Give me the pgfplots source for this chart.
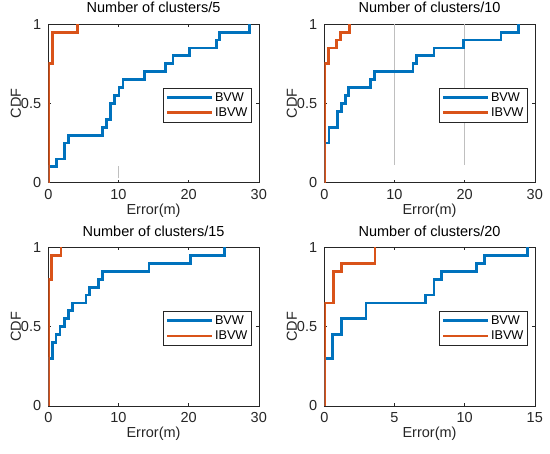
\documentclass[border=0pt]{standalone}
\usepackage{fontspec}
\setmainfont{Liberation Sans}
\usepackage{pgfplots}
\pgfplotsset{compat=1.18}
\definecolor{mblue}{rgb}{0,0.447,0.741}
\definecolor{morange}{rgb}{0.85,0.325,0.098}
\definecolor{axgray}{rgb}{0.15,0.15,0.15}
\newcommand{\bigf}{\fontsize{14.5}{17}\selectfont}
\tikzset{
 bvw/.style={mblue, line width=2.8pt},
 ibvw/.style={morange, line width=2.8pt},
 artif/.style={black!25, line width=0.8pt},
}
\pgfplotsset{
 cdfax/.style={
  scale only axis, width=210.5pt, height=158.5pt, anchor=south west,
  xmin=0, ymin=0, ymax=1,
  ytick={0,0.5,1},
  const plot,
  tick align=inside, major tick length=3pt,
  axis line style={axgray, line width=0.5pt},
  every tick/.style={axgray, line width=0.5pt},
  /pgf/number format/assume math mode=true,
  ticklabel style={font=\bigf, text=axgray},
  xticklabel style={anchor=north, inner sep=0pt, yshift=-6pt},
  yticklabel style={anchor=east, inner sep=0pt, xshift=-7pt},
  xlabel={\bigf Error(m)}, ylabel={\bigf CDF},
  label style={font=\bigf, text=axgray},
  xlabel style={at={(axis description cs:0.5,0)}, anchor=north, inner sep=0pt, yshift=-21pt},
  ylabel style={at={(axis description cs:0,0.5)}, anchor=south, inner sep=0pt, yshift=27pt},
  title style={at={(axis description cs:0.5,1)}, anchor=south, inner sep=0pt, yshift=5pt, font=\bigf},
  legend style={at={(axis description cs:0.965,0.6)}, anchor=north east, draw=axgray, line width=0.5pt, fill=white,
    font=\fontsize{12.7}{14}\selectfont, inner xsep=2.5pt, inner ysep=3pt, row sep=2pt, column sep=0pt,
    nodes={inner xsep=1.2pt, inner ysep=1.5pt, text=black}},
  legend image code/.code={\draw[#1] (0pt,0pt) -- (45pt,0pt);},
  legend cell align=left,
 },
}
\begin{document}
\begin{tikzpicture}
\useasboundingbox (0,0) rectangle (550pt,454pt);
% subplot 1
\begin{axis}[cdfax, at={(48.3pt,271.3pt)}, xmax=30, xtick={0,10,20,30}, title={\bigf Number of clusters/5}]
\addplot[artif, forget plot] coordinates {(10,0.027) (10,0.108)};
\addplot[bvw] coordinates {(0.05,0) (0.05,0.1) (1.18,0.15) (2.27,0.25) (2.84,0.3) (7.72,0.35) (8.29,0.4) (8.91,0.5) (9.48,0.55) (10.09,0.6) (10.66,0.65) (13.74,0.7) (16.68,0.75) (17.77,0.8) (20.14,0.85) (23.93,0.9) (24.41,0.95) (28.67,1)};
\addplot[ibvw] coordinates {(0.05,0) (0.05,0.75) (0.6,0.95) (4.17,1)};
\legend{BVW,IBVW}
\end{axis}
% subplot 2
\begin{axis}[cdfax, at={(324.3pt,271.3pt)}, xmax=30, xtick={0,10,20,30}, title={\bigf Number of clusters/10}]
\addplot[artif, forget plot] coordinates {(10,0.112) (10,1)};
\addplot[artif, forget plot] coordinates {(20,0.112) (20,1)};
\addplot[bvw] coordinates {(0.05,0) (0.05,0.25) (0.66,0.35) (1.85,0.45) (2.46,0.5) (3.03,0.55) (3.5,0.6) (6.63,0.65) (7.1,0.7) (12.64,0.75) (13.11,0.8) (15.62,0.85) (19.83,0.9) (25.18,0.95) (27.69,1)};
\addplot[ibvw] coordinates {(0.05,0) (0.05,0.75) (0.57,0.85) (1.75,0.9) (2.32,0.95) (3.64,1)};
\legend{BVW,IBVW}
\end{axis}
% subplot 3
\begin{axis}[cdfax, at={(48.3pt,48pt)}, xmax=30, xtick={0,10,20,30}, title={\bigf Number of clusters/15}]
\addplot[bvw] coordinates {(0.05,0) (0.05,0.3) (0.57,0.4) (1.09,0.45) (1.66,0.5) (2.27,0.55) (2.84,0.6) (3.46,0.65) (5.36,0.7) (5.92,0.75) (7.11,0.8) (7.73,0.85) (14.36,0.9) (20.28,0.95) (25.12,1)};
\addplot[ibvw] coordinates {(0.05,0) (0.05,0.8) (0.47,0.95) (1.8,1)};
\legend{BVW,IBVW}
\end{axis}
% subplot 4
\begin{axis}[cdfax, at={(324.3pt,48pt)}, xmax=15, xtick={0,5,10,15}, title={\bigf Number of clusters/20}]
\addplot[bvw] coordinates {(0.03,0) (0.03,0.3) (0.59,0.45) (1.23,0.55) (2.97,0.65) (7.22,0.7) (7.81,0.8) (8.36,0.85) (10.85,0.9) (11.44,0.95) (14.46,1)};
\addplot[ibvw] coordinates {(0.03,0) (0.03,0.65) (0.64,0.85) (1.23,0.9) (3.61,1)};
\legend{BVW,IBVW}
\end{axis}
\end{tikzpicture}
\end{document}
